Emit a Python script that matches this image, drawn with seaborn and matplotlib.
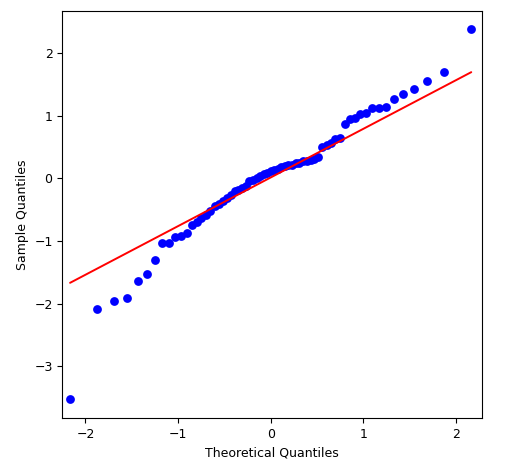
from statistics import NormalDist
import numpy as np
import pandas as pd
import matplotlib
matplotlib.use("Agg")
import matplotlib.pyplot as plt
import seaborn as sb

# sorted sample values (65 points)
sample_low = [-3.53, -2.08, -1.96, -1.91, -1.64, -1.52, -1.30, -1.04, -1.04,
              -0.94, -0.92, -0.87]
sample_mid = [-0.74, -0.70, -0.64, -0.58, -0.52, -0.44, -0.41, -0.37, -0.31,
              -0.26, -0.21, -0.18, -0.15, -0.12, -0.05, -0.02, 0.01, 0.04,
              0.07, 0.09, 0.11, 0.13, 0.15, 0.18, 0.20, 0.21, 0.22, 0.24,
              0.25, 0.27, 0.28, 0.30, 0.31, 0.34, 0.50, 0.53, 0.56, 0.63, 0.65]
sample_high = [0.87, 0.94, 0.97, 1.02, 1.05, 1.12, 1.12, 1.13, 1.27, 1.34,
               1.42, 1.55, 1.69, 2.39]

# reference line
line_slope = 0.776
line_intercept = 0.013

sample = np.array(sample_low + sample_mid + sample_high)
n = len(sample)
# plotting positions i/(n+1), as statsmodels' qqplot does
theo = np.array([NormalDist().inv_cdf(i / (n + 1)) for i in range(1, n + 1)])
df = pd.DataFrame({"Theoretical Quantiles": theo, "Sample Quantiles": sample})

sb.set_style("ticks", {"axes.edgecolor": "black", "xtick.color": "black",
                       "ytick.color": "black", "text.color": "black",
                       "axes.labelcolor": "black"})
plt.rcParams["font.size"] = 9

fig = plt.figure(figsize=(5.25, 4.68), dpi=100)
ax = fig.add_axes([0.1187, 0.1062, 0.799, 0.8703])

sb.scatterplot(data=df, x="Theoretical Quantiles", y="Sample Quantiles",
               color="blue", s=40, linewidth=0, ax=ax, zorder=2)
xs = np.array([theo.min(), theo.max()])
ax.plot(xs, line_intercept + line_slope * xs, color="red", lw=1.4, zorder=3)

ax.set_xlim(-2.25, 2.28)
ax.set_ylim(-3.83, 2.67)
ax.set_xticks([-2, -1, 0, 1, 2])
ax.set_yticks([-3, -2, -1, 0, 1, 2])
ax.tick_params(labelsize=9, direction="out", length=3.5)
ax.xaxis.label.set_size(9)
ax.yaxis.label.set_size(9)

fig.savefig("out.png", dpi=100)
